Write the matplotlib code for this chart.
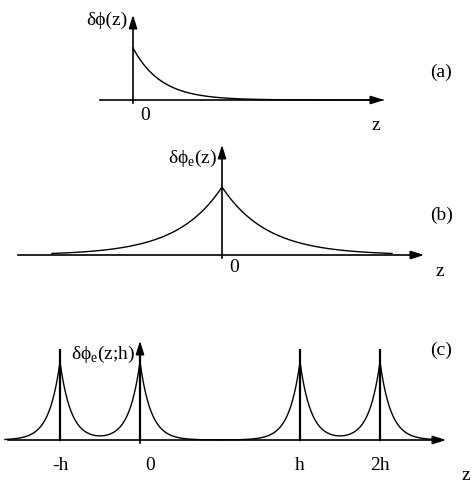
import numpy as np
import matplotlib.pyplot as plt

plt.rcParams['font.family'] = ['Liberation Serif', 'DejaVu Serif']
plt.rcParams['mathtext.fontset'] = 'custom'
plt.rcParams['mathtext.rm'] = 'Liberation Serif'

# schematic parameters (in pixel units)
decay_a = 28.0
decay_b = 45.0
decay_c = 11.0
peak_positions_c = [60, 140, 300, 380]
tick_labels_c = ['-h', '0', 'h', '2h']

fig = plt.figure(figsize=(4.74, 4.83), dpi=100)
ax = fig.add_axes([0, 0, 1, 1])
ax.set_xlim(0, 474)
ax.set_ylim(483, 0)
ax.axis('off')

arrow = dict(arrowstyle='-|>,head_length=0.8,head_width=0.25', color='black', lw=1.2)

def axes_arrows(x0, x1, y0, xv, ytop):
    ax.annotate('', xy=(x1, y0), xytext=(x0, y0), arrowprops=arrow)
    ax.annotate('', xy=(xv, ytop), xytext=(xv, y0 + 6), arrowprops=arrow)

fs = 14
# (a)
axes_arrows(97, 387, 100, 133, 12)
z = np.linspace(0, 250, 400)
ax.plot(133 + z, 100 - 52 * np.exp(-z / decay_a), color='black', lw=1)
ax.text(128, 20, 'δϕ(z)', fontsize=fs, va='center', ha='right')
ax.text(140, 116, '0', fontsize=fs, va='center')
ax.text(372, 126, 'z', fontsize=fs, va='center')
ax.text(430, 72, '(a)', fontsize=fs, va='center')

# (b)
axes_arrows(15, 427, 255, 222, 142)
z = np.linspace(-170, 170, 600)
ax.plot(222 + z, 255 - 68 * np.exp(-np.abs(z) / decay_b), color='black', lw=1)
ax.text(217, 158, 'δϕ$_\\mathrm{e}$(z)', fontsize=fs, va='center', ha='right')
ax.text(229, 268, '0', fontsize=fs, va='center')
ax.text(436, 272, 'z', fontsize=fs, va='center')
ax.text(430, 215, '(b)', fontsize=fs, va='center')

# (c)
axes_arrows(5, 449, 440, 140, 338)
x = np.linspace(5, 440, 2000)
y = np.zeros_like(x)
for p in peak_positions_c:
    y = y + np.exp(-np.abs(x - p) / decay_c)
ax.plot(x, 440 - 78 * y, color='black', lw=1)
for p in peak_positions_c:
    ax.plot([p, p], [440, 350], color='black', lw=1.6)
for p, lab in zip(peak_positions_c, tick_labels_c):
    ax.text(p + (10 if lab == '0' else 0), 465, lab, fontsize=fs, ha='center', va='center')
ax.text(135, 354, 'δϕ$_\\mathrm{e}$(z;h)', fontsize=fs, va='center', ha='right')
ax.text(462, 476, 'z', fontsize=fs, va='center')
ax.text(430, 350, '(c)', fontsize=fs, va='center')

fig.savefig('out.png', dpi=100)
